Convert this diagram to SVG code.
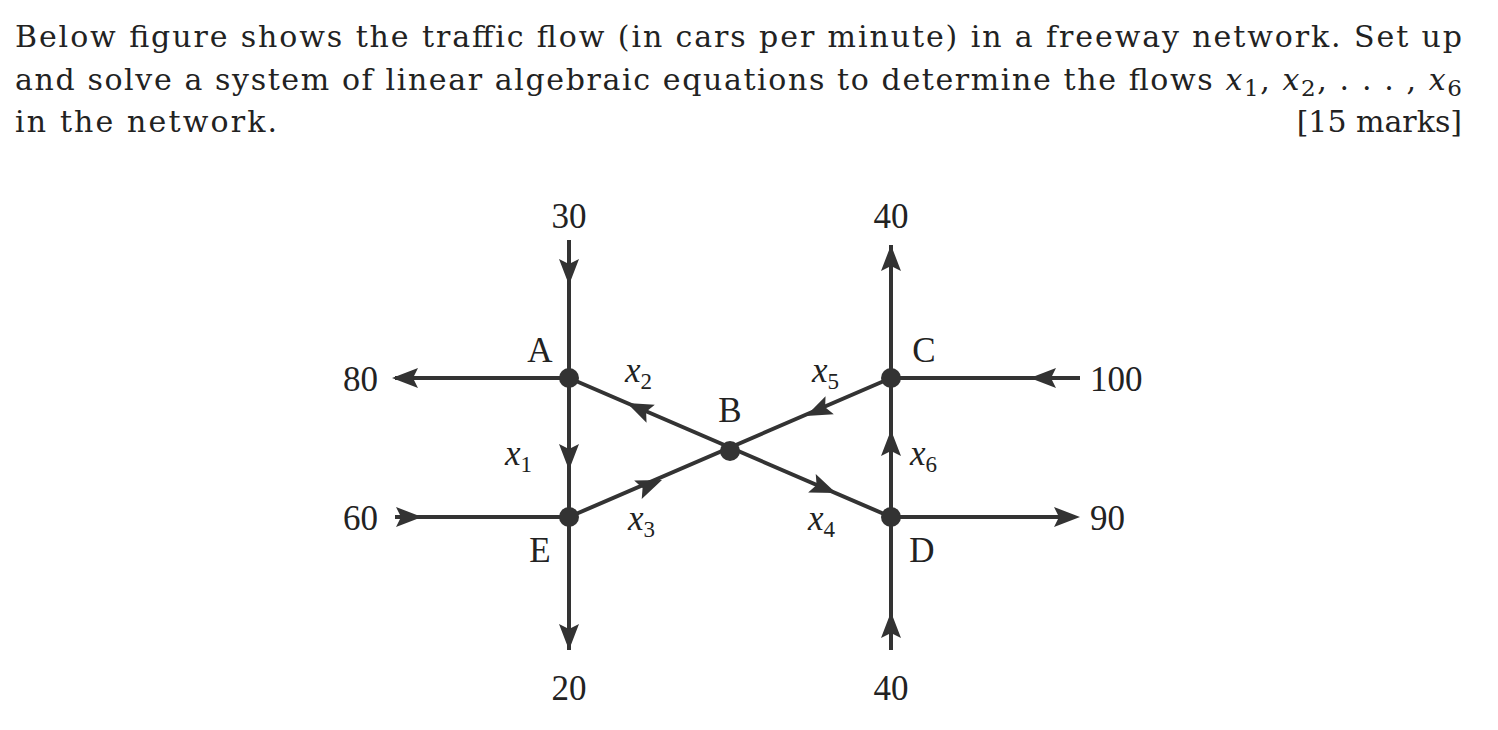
<svg xmlns="http://www.w3.org/2000/svg" width="1498" height="730" viewBox="0 0 1498 730">
<style>
text{font-family:"Liberation Serif","DejaVu Serif",serif;fill:#222}
.h{font-size:30px;font-family:"DejaVu Serif",serif}
.n{font-size:35px}
.v{font-size:35px;font-style:italic}
.s{font-size:23px;font-style:normal}
.ln{stroke:#333;stroke-width:4;fill:none}
</style>
<defs><path id="ah" d="M0,0 L-26,-10 L-21,0 L-26,10 Z" fill="#333"/></defs>
<rect width="1498" height="730" fill="#fff"/>
<g id="header">
<text class="h" x="15" y="47" textLength="1447" lengthAdjust="spacing">Below figure shows the traffic flow (in cars per minute) in a freeway network. Set up</text>
<text class="h" x="15" y="90" textLength="1447" lengthAdjust="spacing">and solve a system of linear algebraic equations to determine the flows <tspan font-style="italic">x</tspan><tspan class="s" dy="6">1</tspan><tspan dy="-6">, </tspan><tspan font-style="italic">x</tspan><tspan class="s" dy="6">2</tspan><tspan dy="-6">, . . . , </tspan><tspan font-style="italic">x</tspan><tspan class="s" dy="6">6</tspan></text>
<text class="h" x="15" y="132" textLength="262" lengthAdjust="spacing">in the network.</text>
<text class="h" x="1462" y="132" text-anchor="end">[15 marks]</text>
</g>
<g id="connectors">
<path class="ln" d="M569,240V650M891,245V650M395,378H569M891,378H1080M395,517H569M891,517H1075M569,378L891,517M569,517L891,378"/>
<use href="#ah" transform="translate(569,285) rotate(90)"/>
<use href="#ah" transform="translate(569,470) rotate(90)"/>
<use href="#ah" transform="translate(569,650) rotate(90)"/>
<use href="#ah" transform="translate(891,245) rotate(-90)"/>
<use href="#ah" transform="translate(891,430) rotate(-90)"/>
<use href="#ah" transform="translate(891,612) rotate(-90)"/>
<use href="#ah" transform="translate(392,378) rotate(180)"/>
<use href="#ah" transform="translate(1030,378) rotate(180)"/>
<use href="#ah" transform="translate(422,517)"/>
<use href="#ah" transform="translate(1080,517)"/>
<use href="#ah" transform="translate(627,403) rotate(204.4)"/>
<use href="#ah" transform="translate(806,416) rotate(155.6)"/>
<use href="#ah" transform="translate(662,480) rotate(-22.3)"/>
<use href="#ah" transform="translate(836,493) rotate(22.3)"/>
</g>
<g id="A"><circle cx="569" cy="378" r="10" fill="#333"/><text class="n" x="540" y="362" text-anchor="middle">A</text></g>
<g id="C"><circle cx="891" cy="378" r="10" fill="#333"/><text class="n" x="924" y="362" text-anchor="middle">C</text></g>
<g id="B"><circle cx="730" cy="451" r="10" fill="#333"/><text class="n" x="730" y="422" text-anchor="middle">B</text></g>
<g id="E"><circle cx="569" cy="517" r="10" fill="#333"/><text class="n" x="540" y="562" text-anchor="middle">E</text></g>
<g id="D"><circle cx="891" cy="517" r="10" fill="#333"/><text class="n" x="922" y="562" text-anchor="middle">D</text></g>
<g id="labels">
<text class="n" x="569" y="228" text-anchor="middle">30</text>
<text class="n" x="891" y="228" text-anchor="middle">40</text>
<text class="n" x="569" y="700" text-anchor="middle">20</text>
<text class="n" x="891" y="700" text-anchor="middle">40</text>
<text class="n" x="378" y="391" text-anchor="end">80</text>
<text class="n" x="378" y="530" text-anchor="end">60</text>
<text class="n" x="1090" y="391">100</text>
<text class="n" x="1090" y="530">90</text>
<text class="v" x="505" y="465">x<tspan class="s" dy="7">1</tspan></text>
<text class="v" x="625" y="382">x<tspan class="s" dy="7">2</tspan></text>
<text class="v" x="628" y="530">x<tspan class="s" dy="7">3</tspan></text>
<text class="v" x="808" y="530">x<tspan class="s" dy="7">4</tspan></text>
<text class="v" x="812" y="382">x<tspan class="s" dy="7">5</tspan></text>
<text class="v" x="910" y="465">x<tspan class="s" dy="7">6</tspan></text>
</g>
</svg>
